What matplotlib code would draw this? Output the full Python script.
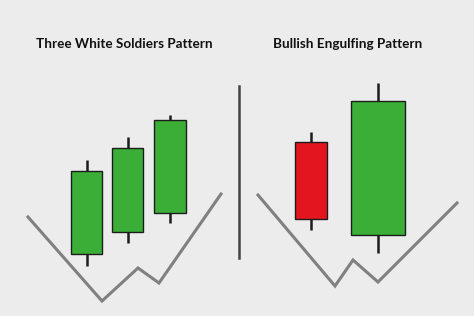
import matplotlib
matplotlib.use("Agg")
import matplotlib.pyplot as plt
from matplotlib.patches import Rectangle

# Price scale: price = 316 - screen row
# Left panel: Three White Soldiers
tws_x = [87, 128, 170]
tws_open = [62, 84, 103]
tws_close = [145, 168, 196]
tws_high = [156, 179, 201]
tws_low = [50, 73, 93]
tws_width = [31, 31, 32]
tws_trend_x = [28, 102, 138, 159, 221]
tws_trend_y = [99, 15, 48, 33, 122]

# Right panel: Bullish Engulfing
be_x = [311, 378]
be_open = [174, 81]
be_close = [97, 215]
be_high = [184, 233]
be_low = [86, 63]
be_width = [32, 54]
be_colors = ["#e3151f", "#3aae36"]
be_trend_x = [258, 335, 353, 378, 457]
be_trend_y = [121, 30, 56, 34, 113]

titles = ["Three White Soldiers Pattern", "Bullish Engulfing Pattern"]
title_x = [124.5, 347.5]
title_y = 272

BG = "#ececec"
GREEN = "#3aae36"
EDGE = "#1c1c1c"

fig = plt.figure(figsize=(4.74, 3.16), dpi=100)
fig.patch.set_facecolor(BG)
ax = fig.add_axes([0, 0, 1, 1])
ax.set_facecolor(BG)
ax.set_xlim(0, 474)
ax.set_ylim(0, 316)
ax.axis("off")


def candles(xs, opens, closes, highs, lows, widths, colors):
    for x, o, c, h, l, w, col in zip(xs, opens, closes, highs, lows, widths, colors):
        lo, hi = min(o, c), max(o, c)
        ax.plot([x, x], [hi, h], color=EDGE, lw=1.8, solid_capstyle="butt", zorder=2)
        ax.plot([x, x], [l, lo], color=EDGE, lw=1.8, solid_capstyle="butt", zorder=2)
        ax.add_patch(Rectangle((x - w / 2, lo), w, hi - lo, facecolor=col,
                               edgecolor=EDGE, lw=1.0, zorder=3))


ax.plot(tws_trend_x, tws_trend_y, color="#808080", lw=2.2, zorder=1,
        solid_joinstyle="miter")
ax.plot(be_trend_x, be_trend_y, color="#808080", lw=2.2, zorder=1,
        solid_joinstyle="miter")

candles(tws_x, tws_open, tws_close, tws_high, tws_low, tws_width, [GREEN] * 3)
candles(be_x, be_open, be_close, be_high, be_low, be_width, be_colors)

# divider
ax.plot([239, 239], [58, 230], color="#444444", lw=1.8)

for t, tx in zip(titles, title_x):
    ax.text(tx, title_y, t, ha="center", va="center", fontsize=9.7,
            fontweight="bold", family=["Lato", "DejaVu Sans"], color="#111111")

fig.savefig("out.png", dpi=100, facecolor=BG)
